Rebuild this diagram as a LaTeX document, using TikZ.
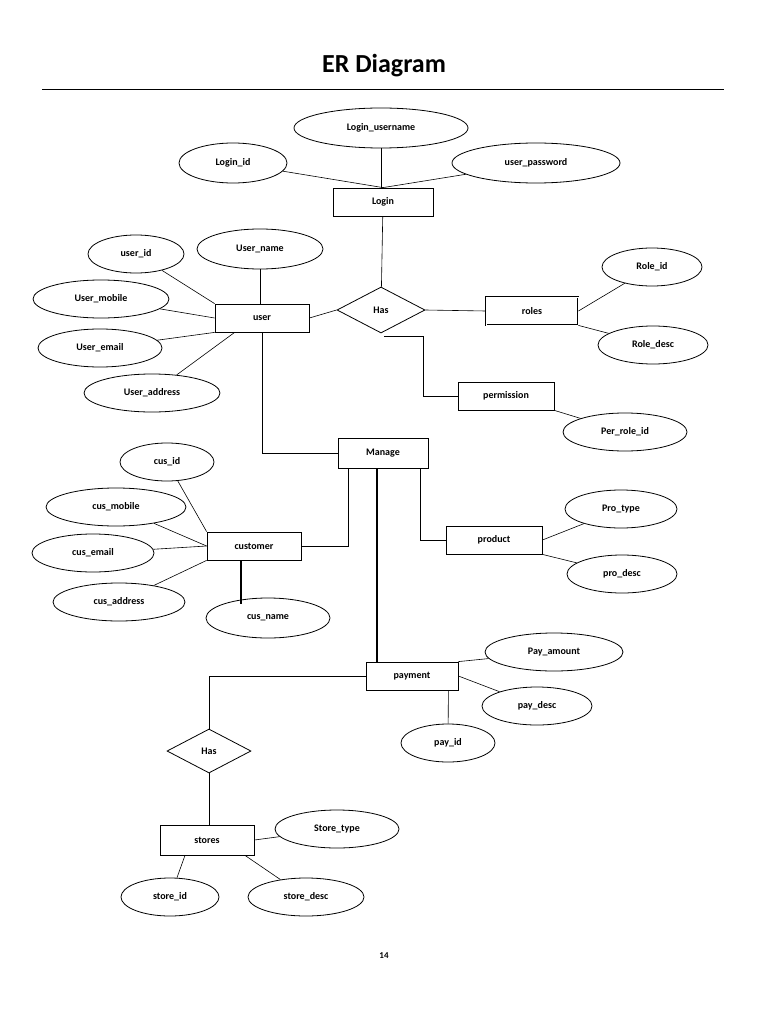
\documentclass[tikz,border=0pt]{standalone}
\usepackage{fontspec}
\setmainfont{Carlito}
\usetikzlibrary{shapes.geometric}
\begin{document}
\begin{tikzpicture}[x=1pt,y=-1pt,
 attr/.style={ellipse,draw,thick,minimum width=#1,minimum height=38,inner sep=0pt,font=\bfseries\fontsize{10}{12}\selectfont},
 ent/.style={rectangle,draw,thick,minimum width=#1,minimum height=28,inner sep=0pt,font=\bfseries\fontsize{10}{12}\selectfont},
 rel/.style={diamond,draw,thick,aspect=1.9,minimum width=88,minimum height=46,inner sep=0pt,font=\bfseries\fontsize{10}{12}\selectfont},
 ln/.style={draw,semithick}]
\useasboundingbox (0,0) rectangle (768,1024);
\node[font=\bfseries\fontsize{26}{30}\selectfont] (title) at (384,66) {ER Diagram};
\coordinate (t1) at (42,89); \coordinate (t2) at (724,89);
\draw[semithick] (t1) -- (t2);
\node[font=\bfseries\fontsize{9}{11}\selectfont] (pg) at (384,956) {14};
% Login
\node[ent=100] (login) at (383,202) {Login};
\node[attr=174,minimum height=40] (lu) at (381,128) {Login\_username};
\node[attr=108,minimum height=40] (lid) at (233,163) {Login\_id};
\node[attr=168,minimum height=40] (upw) at (536,163) {user\_password};
\draw[ln] (lu) -- (lu|-login.north);
\draw[ln] (lid) -- (login.north);
\draw[ln] (upw) -- (login.north);
% Has
\node[rel] (has) at (381,310) {Has};
\draw[ln] (login) -- (has);
% user
\node[ent=94] (user) at (262,318) {user};
\node[attr=96] (uid) at (136,254) {user\_id};
\node[attr=126,minimum height=40] (uname) at (260,249) {User\_name};
\node[attr=136] (umob) at (101,299) {User\_mobile};
\node[attr=124] (uem) at (100,348) {User\_email};
\node[attr=136] (uad) at (152,393) {User\_address};
\draw[ln] (uid) -- (user.north west);
\draw[ln] (uname) -- (uname|-user.north);
\draw[ln] (umob) -- (user.west);
\draw[ln] (uem) -- (user.south west);
\draw[ln] (uad) -- ([xshift=20]user.south west);
\draw[ln] (user.east) -- (has.west);
% roles
\node[ent=92,double,double distance=1pt] (roles) at (532,311) {roles};
\node[attr=100] (rid) at (652,267) {Role\_id};
\node[attr=110] (rdesc) at (653,345) {Role\_desc};
\draw[ln] (has.east) -- (roles.west);
\draw[ln] (rid) -- (roles.east);
\draw[ln] (rdesc) -- (roles.south east);
% permission
\node[ent=96] (perm) at (506,396) {permission};
\node[attr=124] (prid) at (625,432) {Per\_role\_id};
\coordinate (hb) at (384,336);
\draw[ln] (hb) -- (423,336) |- (perm.west);
\draw[ln] (prid) -- (perm.south east);
% Manage
\node[ent=90,minimum height=30] (man) at (383,453) {Manage};
\draw[ln] (user.south) |- (man.west);
% customer
\node[ent=94] (cus) at (254,546) {customer};
\node[attr=94] (cid) at (167,462) {cus\_id};
\node[attr=140] (cmob) at (116,507) {cus\_mobile};
\node[attr=122] (cem) at (93,553) {cus\_email};
\node[attr=132] (cad) at (119,602) {cus\_address};
\node[attr=124,minimum height=40] (cname) at (268,618) {cus\_name};
\draw[ln] (cid) -- (cus.north west);
\draw[ln] (cmob) -- (cus.west);
\draw[ln] (cem) -- (cus.west);
\draw[ln] (cad) -- (cus.south west);
\draw[very thick] ([xshift=-13]cus.south) -- ([xshift=-13]cus.south|-cname.north west);
\draw[ln] (cus.east) -| ([xshift=-35]man.south);
% product
\node[ent=96] (prod) at (494,540) {product};
\node[attr=112] (ptype) at (621,509) {Pro\_type};
\node[attr=110] (pdesc) at (622,574) {pro\_desc};
\draw[ln] ([xshift=37]man.south) |- (prod.west);
\draw[ln] (ptype) -- (prod.east);
\draw[ln] (pdesc) -- (prod.south east);
% payment
\node[ent=92] (pay) at (412,676) {payment};
\node[attr=138] (pam) at (554,652) {Pay\_amount};
\node[attr=110] (pdsc) at (537,706) {pay\_desc};
\node[attr=94] (pid) at (448,743) {pay\_id};
\draw[very thick] ([xshift=-6]man.south) -- ([xshift=-6]man.south|-pay.north);
\draw[ln] (pam) -- (pay.north east);
\draw[ln] (pdsc) -- (pay.east);
\draw[ln] (pid) -- ([xshift=-10]pay.south east);
% Has2
\node[rel,minimum width=84,minimum height=44] (has2) at (209,751) {Has};
\draw[ln] (pay.west) -| (has2.north);
% stores
\node[ent=94,minimum height=30] (st) at (207,840) {stores};
\node[attr=124] (stt) at (337,829) {Store\_type};
\node[attr=98] (sid) at (170,897) {store\_id};
\node[attr=116] (sdesc) at (306,897) {store\_desc};
\draw[ln] (has2.south) -- (has2.south|-st.north);
\draw[ln] (stt) -- (st.east);
\draw[ln] (sid) -- ([xshift=-22]st.south);
\draw[ln] (sdesc) -- ([xshift=38]st.south);
\end{tikzpicture}
\end{document}
